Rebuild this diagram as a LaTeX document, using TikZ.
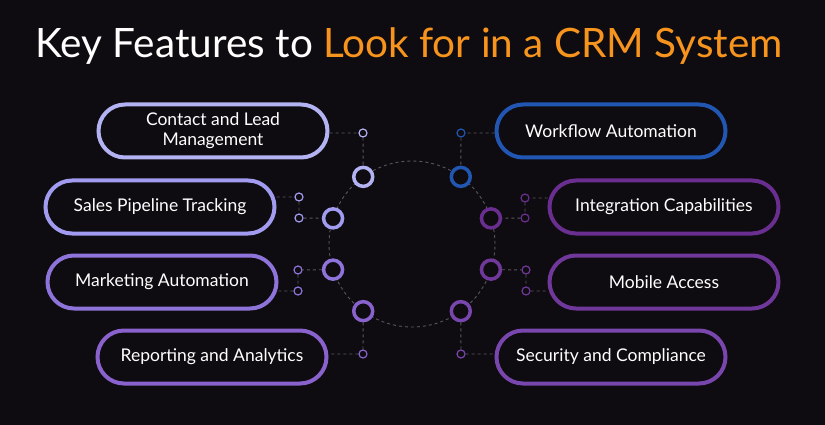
\documentclass[tikz,border=0pt]{standalone}
\usepackage{fontspec}
\setmainfont{Lato}
\usetikzlibrary{positioning}

\definecolor{bgdark}{HTML}{0E0C10}
\definecolor{crmorange}{HTML}{F7941D}
\definecolor{lineg}{HTML}{56565C}
\definecolor{cA}{HTML}{B3B2F2}
\definecolor{cB}{HTML}{A29CF0}
\definecolor{cC}{HTML}{8E74DA}
\definecolor{cD}{HTML}{8A62CE}
\definecolor{cE}{HTML}{2156B2}
\definecolor{cF}{HTML}{6A2E90}
\definecolor{cG}{HTML}{70389A}
\definecolor{cH}{HTML}{7946AE}

\begin{document}
\begin{tikzpicture}[x=1pt,y=-1pt,
  pill/.style={draw, rounded corners=26.5pt, line width=4pt, minimum width=229pt, minimum height=53pt, text=white, align=center, font=\fontsize{17.5}{20}\selectfont},
  ring/.style={circle, draw, line width=3.5pt, minimum size=19pt, inner sep=0pt, fill=bgdark},
  dot/.style={circle, draw, line width=1.2pt, minimum size=8pt, inner sep=0pt, fill=bgdark},
  link/.style={draw=lineg, dashed, line width=0.9pt}]
\fill[bgdark] (0,0) rectangle (825,425);
\useasboundingbox (0,0) rectangle (825,425);
% title
\node[font=\fontsize{40.5}{46}\selectfont, text=white] (title) at (409,46) {Key Features to \textcolor{crmorange}{Look for in a CRM System}};
% hub
\node[circle, draw=lineg, dashed, line width=0.9pt, minimum size=166pt, inner sep=0pt, outer sep=0pt] (hub) at (412,244) {};
\foreach \nm/\ang/\col in {rA/126/cA, rB/162/cB, rC/198/cC, rD/234/cD, rE/54/cE, rF/18/cF, rG/-18/cG, rH/-54/cH} { \node[ring, draw=\col] (\nm) at (hub.\ang) {}; }
% features
\foreach \nm/\x/\y/\col/\txt in {contact/213/131/cA/{Contact and Lead\\Management}, sales/160/207/cB/{Sales Pipeline Tracking}, marketing/162/282/cC/{Marketing Automation}, reporting/212/357/cD/{Reporting and Analytics}, workflow/611/131/cE/{Workflow Automation}, integration/664/207/cF/{Integration Capabilities}, mobile/664/282/cG/{Mobile Access}, security/611/357/cH/{Security and Compliance}} { \node[pill, draw=\col] (\nm) at (\x,\y) {\txt}; }
% A
\node[dot, draw=cA] (dA) at (363,133) {};
\draw[link] (contact.east |- dA) -- (dA) -- (rA);
% B
\node[dot, draw=cB] (dB1) at (299,197) {};
\node[dot, draw=cB] (dB2) at (299,218) {};
\draw[link] (sales.east |- dB1) -- (dB1) -- (dB2) -- (rB);
% C
\node[dot, draw=cC] (dC1) at (298,270) {};
\node[dot, draw=cC] (dC2) at (298,291) {};
\draw[link] (rC) -- (dC1) -- (dC2) -- (marketing.east |- dC2);
% D
\node[dot, draw=cD] (dD) at (363,354) {};
\draw[link] (rD) -- (dD) -- (reporting.east |- dD);
% E
\node[dot, draw=cE] (dE) at (461,133) {};
\draw[link] (workflow.west |- dE) -- (dE) -- (rE);
% F
\node[dot, draw=cF] (dF1) at (525,198) {};
\node[dot, draw=cF] (dF2) at (525,218) {};
\draw[link] (integration.west |- dF1) -- (dF1) -- (dF2) -- (rF);
% G
\node[dot, draw=cG] (dG1) at (526,270) {};
\node[dot, draw=cG] (dG2) at (526,291) {};
\draw[link] (rG) -- (dG1) -- (dG2) -- (mobile.west |- dG2);
% H
\node[dot, draw=cH] (dH) at (461,354) {};
\draw[link] (rH) -- (dH) -- (security.west |- dH);
\end{tikzpicture}
\end{document}
